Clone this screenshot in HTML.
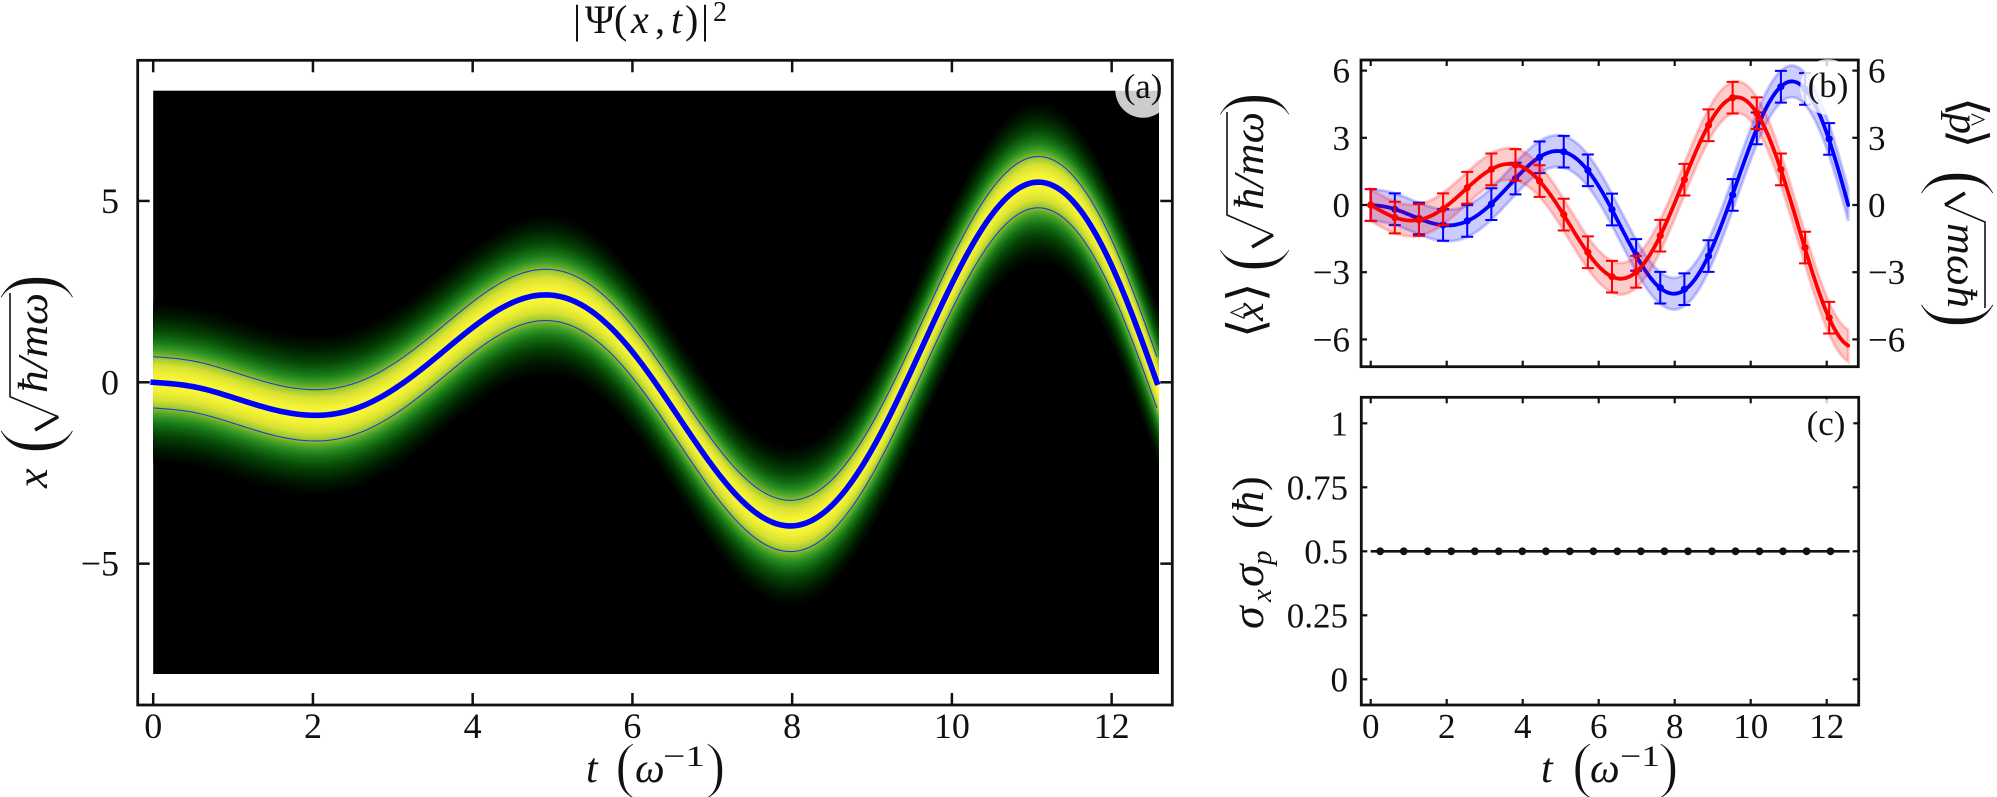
<!DOCTYPE html>
<html lang="en">
<head>
<meta charset="utf-8">
<title>Wave packet density and expectation values</title>
<style>
html,body{margin:0;padding:0;background:#fff;}
svg{display:block;}
text{font-family:"Liberation Serif","DejaVu Serif",serif;fill:#111;}
.i{font-style:italic;}
.ch{font-family:"DejaVu Sans",sans-serif;}
.thin{stroke:#fff;stroke-width:2.2;}
.thin2{stroke:#fff;stroke-width:1.4;}
</style>
</head>
<body>
<svg id="fig" xmlns="http://www.w3.org/2000/svg" width="1997" height="797" viewBox="0 0 1997 797">
  <defs>
    <clipPath id="clip-a"><rect x="153.2" y="90.7" width="1005.8" height="583.3"/></clipPath>
    <clipPath id="clip-b"><rect x="1361" y="60" width="497" height="307"/></clipPath>
  </defs>
  <g id="panel-a"></g>
  <g id="panel-b"></g>
  <g id="panel-c"></g>

  <g>
    <text x="573" y="33" font-size="40">|</text>
    <text x="585" y="33" font-size="40">Ψ</text>
    <text x="614" y="33" font-size="40">(</text>
    <text x="631" y="33" font-size="40" class="i">x</text>
    <text x="655" y="33" font-size="40">,</text>
    <text x="671" y="33" font-size="40" class="i">t</text>
    <text x="685" y="33" font-size="40">)</text>
    <text x="701" y="33" font-size="40">|</text>
    <text x="713" y="21" font-size="28">2</text>
  </g>

  <g>
    <text x="586" y="782" font-size="42" class="i">t</text>
    <text class="thin2" x="615" y="786" font-size="62">(</text>
    <text x="635" y="782" font-size="42" class="i">ω</text>
    <text x="663" y="766" font-size="30" textLength="42" lengthAdjust="spacingAndGlyphs">−1</text>
    <text class="thin2" x="705" y="786" font-size="62">)</text>
  </g>
  <g>
    <text transform="translate(47,488) rotate(-90)" font-size="44" class="i">x</text>
    <text class="thin" transform="translate(57,455) rotate(-90)" font-size="84">(</text>
    <text class="thin" transform="translate(57,301) rotate(-90)" font-size="84">)</text>
    <text transform="translate(47,393) rotate(-90)" font-size="42" class="i" textLength="100" lengthAdjust="spacingAndGlyphs">ħ/mω</text>
    <path d="M58.3 416.7L10 396.7L10 293" fill="none" stroke="#111" stroke-width="1.6"/>
    <path d="M35 430L58.3 416.7" fill="none" stroke="#111" stroke-width="3.4"/>
  </g>

  <g>
    <text class="ch" transform="translate(1263,338) rotate(-90)" font-size="50">⟨</text>
    <text transform="translate(1263,321) rotate(-90)" font-size="42" class="i">x</text>
    <text transform="translate(1249,319) rotate(-90)" font-size="28">^</text>
    <text class="ch" transform="translate(1263,302) rotate(-90)" font-size="50">⟩</text>
    <text class="thin" transform="translate(1274,273) rotate(-90)" font-size="80">(</text>
    <text class="thin" transform="translate(1274,118) rotate(-90)" font-size="80">)</text>
    <text transform="translate(1263,210) rotate(-90)" font-size="42" class="i" textLength="98" lengthAdjust="spacingAndGlyphs">ħ/mω</text>
    <path d="M1273 235L1227 215L1227 112" fill="none" stroke="#111" stroke-width="1.6"/>
    <path d="M1252 247L1273 235" fill="none" stroke="#111" stroke-width="3.4"/>
  </g>

  <g>
    <text class="ch" transform="translate(1952,97) rotate(90)" font-size="50">⟨</text>
    <text transform="translate(1950,113) rotate(90)" font-size="42" class="i">p</text>
    <text transform="translate(1966,113) rotate(90)" font-size="28">^</text>
    <text class="ch" transform="translate(1952,129) rotate(90)" font-size="50">⟩</text>
    <text class="thin" transform="translate(1937,169) rotate(90)" font-size="84">(</text>
    <text class="thin" transform="translate(1937,301) rotate(90)" font-size="84">)</text>
    <text transform="translate(1948,223) rotate(90)" font-size="42" class="i" textLength="85" lengthAdjust="spacingAndGlyphs">mωħ</text>
    <path d="M1945 205L1985 222L1985 308" fill="none" stroke="#111" stroke-width="1.6"/>
    <path d="M1965 193L1945 205" fill="none" stroke="#111" stroke-width="3.4"/>
  </g>

  <g>
    <text transform="translate(1263,629) rotate(-90)" font-size="46" class="i">σ</text>
    <text transform="translate(1271,602) rotate(-90)" font-size="29" class="i">x</text>
    <text transform="translate(1263,587) rotate(-90)" font-size="46" class="i">σ</text>
    <text transform="translate(1271,565) rotate(-90)" font-size="29" class="i">p</text>
    <text transform="translate(1263,529) rotate(-90)" font-size="44">(</text>
    <text transform="translate(1263,513) rotate(-90)" font-size="44" class="i">ħ</text>
    <text transform="translate(1263,491) rotate(-90)" font-size="44">)</text>
  </g>

  <g>
    <text x="1541" y="782" font-size="42" class="i">t</text>
    <text class="thin2" x="1572" y="786" font-size="62">(</text>
    <text x="1590" y="782" font-size="42" class="i">ω</text>
    <text x="1620" y="766" font-size="30" textLength="40" lengthAdjust="spacingAndGlyphs">−1</text>
    <text class="thin2" x="1658" y="786" font-size="62">)</text>
  </g>
</svg>

<script>
// ---- chart data ----
const curveT = [0,0.5,1,1.5,2,2.5,3,3.5,4,4.5,5,5.5,6,6.5,7,7.5,8,8.5,9,9.5,10,10.5,11,11.5,12,12.5,12.566];
const positionMean = [0,-0.12,-0.42,-0.75,-0.91,-0.75,-0.21,0.61,1.51,2.2,2.4,1.94,0.84,-0.7,-2.3,-3.52,-3.96,-3.39,-1.85,0.36,2.72,4.62,5.5,5.03,3.22,0.41,0];
const momentumMean = [0,-0.46,-0.69,-0.55,-0.04,0.7,1.41,1.81,1.69,0.96,-0.23,-1.6,-2.74,-3.28,-2.97,-1.77,0.09,2.16,3.89,4.77,4.47,2.94,0.48,-2.34,-4.8,-6.2,-6.28];
const positionSigma = 0.707;
const momentumSigma = 0.707;
const markerT = [0,0.635,1.27,1.905,2.54,3.175,3.81,4.445,5.08,5.715,6.35,6.985,7.62,8.255,8.89,9.525,10.16,10.795,11.43,12.065];
const positionMarkers = [0,-0.19,-0.6,-0.89,-0.71,0.04,1.18,2.13,2.38,1.55,-0.2,-2.23,-3.69,-3.76,-2.28,0.45,3.42,5.28,5.18,2.95];
const momentumMarkers = [0,-0.56,-0.67,-0.19,0.77,1.59,1.79,1.07,-0.43,-2.11,-3.2,-2.98,-1.37,1.13,3.56,4.79,4.1,1.59,-1.9,-5.03];
const productMarkerT = [0.25,0.87,1.5,2.12,2.74,3.37,3.99,4.61,5.24,5.86,6.49,7.11,7.73,8.35,8.98,9.6,10.23,10.85,11.47,12.1];
const productMarkers = [0.5,0.5,0.5,0.5,0.5,0.5,0.5,0.5,0.5,0.5,0.5,0.5,0.5,0.5,0.5,0.5,0.5,0.5,0.5,0.5];
const productLineT = [0,12.6];
const productLine = [0.5,0.5];
const timeTicks = [0,2,4,6,8,10,12];
const timeTickLabels = ['0','2','4','6','8','10','12'];
const densityYTicks = [-5,0,5];
const densityYTickLabels = ['−5','0','5'];
const expectationTicks = [-6,-3,0,3,6];
const expectationTickLabels = ['−6','−3','0','3','6'];
const productTicks = [0,0.25,0.5,0.75,1];
const productTickLabels = ['0','0.25','0.5','0.75','1'];

// ---- axis functions ----
const ax = t => 153.2 + 79.87 * t;
const ay = v => 382.3 - 36.27 * v;
const bx = t => 1370.7 + 38.0 * t;
const by = v => 205 - 22.4 * v;
const cx = bx;
const cy = v => 679.3 - 256 * v;

const NS = 'http://www.w3.org/2000/svg';
function make(tag, attrs, parent, txt){
  const el = document.createElementNS(NS, tag);
  for (const k in attrs) el.setAttribute(k, attrs[k]);
  if (txt !== undefined) el.textContent = txt;
  parent.appendChild(el);
  return el;
}

function spline(xs, ys){
  const n = xs.length, m = new Array(n).fill(0), u = new Array(n).fill(0);
  for (let i = 1; i < n - 1; i++){
    const s = (xs[i] - xs[i-1]) / (xs[i+1] - xs[i-1]);
    const p = s * m[i-1] + 2;
    m[i] = (s - 1) / p;
    const d = (ys[i+1] - ys[i]) / (xs[i+1] - xs[i]) - (ys[i] - ys[i-1]) / (xs[i] - xs[i-1]);
    u[i] = (6 * d / (xs[i+1] - xs[i-1]) - s * u[i-1]) / p;
  }
  for (let i = n - 2; i >= 0; i--) m[i] = m[i] * m[i+1] + u[i];
  return function(t){
    let i = 0;
    while (i < n - 2 && t > xs[i+1]) i++;
    const h = xs[i+1] - xs[i], a = (xs[i+1] - t) / h, b = (t - xs[i]) / h;
    return a * ys[i] + b * ys[i+1] + ((a*a*a - a) * m[i] + (b*b*b - b) * m[i+1]) * h * h / 6;
  };
}

const positionCurve = spline(curveT, positionMean);
const momentumCurve = spline(curveT, momentumMean);
const T_END = curveT[curveT.length - 1];

function linePoints(fn, sx, sy, offset, tEnd, count){
  const pts = [];
  for (let i = 0; i <= count; i++){
    const t = tEnd * i / count;
    pts.push(sx(t).toFixed(2) + ',' + sy(fn(t) + offset).toFixed(2));
  }
  return pts;
}

const colorStops = [[2.25,0,0,0],[1.9,0,22,0],[1.5,5,65,5],[1.2,20,110,20],[1.0,45,145,35],[0.85,90,170,40],[0.7,155,200,50],[0.5,215,225,50],[0.3,238,238,52],[0,255,255,60]];
function densityColor(u){
  for (let i = 0; i < colorStops.length - 1; i++){
    const a = colorStops[i], b = colorStops[i+1];
    if (u <= a[0] && u >= b[0]){
      const f = (a[0] - u) / (a[0] - b[0]);
      return 'rgb(' + [1,2,3].map(k => Math.round(a[k] + (b[k] - a[k]) * f)).join(',') + ')';
    }
  }
  return '#000';
}

function drawTicks(g, name, ticks, pos, horizontal, a0, a1, len, w){
  ticks.forEach(v => {
    const p = pos(v);
    const t1 = make('line', horizontal ? {x1:p,x2:p,y1:a0,y2:a0+len,stroke:'#111','stroke-width':w} : {x1:a0,x2:a0+len,y1:p,y2:p,stroke:'#111','stroke-width':w}, g);
    
    
    const t2 = make('line', horizontal ? {x1:p,x2:p,y1:a1,y2:a1-len,stroke:'#111','stroke-width':w} : {x1:a1,x2:a1-len,y1:p,y2:p,stroke:'#111','stroke-width':w}, g);
    
    
  });
}

function drawFrame(g, name, x0, y0, x1, y1){
  const r = make('rect', {x:x0,y:y0,width:x1-x0,height:y1-y0,fill:'none',stroke:'#111','stroke-width':2.8}, g);
  
  
}

function drawBadge(g, name, label, cxp, cyp, tx, ty){
  const c = make('circle', {cx:cxp,cy:cyp,r:27.7,fill:'#fff','fill-opacity':0.8}, g);
  
  
  const t = make('text', {x:tx,y:ty,'font-size':35,'text-anchor':'middle'}, g, label);
  
  
}

// ---- panel (a): density map ----
const pa = document.getElementById('panel-a');
const heatBack = make('rect', {x:153.2,y:90.7,width:1005.8,height:583.3,fill:'#000'}, pa);


const heat = make('g', {'clip-path':'url(#clip-a)'}, pa);


const HEAT_END = 12.6;
for (let u = 2.25; u > 0.001; u -= 0.05){
  const top = linePoints(positionCurve, ax, ay, u, HEAT_END, 220);
  const bot = linePoints(positionCurve, ax, ay, -u, HEAT_END, 220).reverse();
  const band = make('polygon', {points: top.concat(bot).join(' '), fill: densityColor(u)}, heat);
  
  
}
[positionSigma, -positionSigma].forEach(off => {
  const l = make('polyline', {points: linePoints(positionCurve, ax, ay, off, T_END, 300).join(' '), fill:'none', stroke:'#1c2fd0', 'stroke-width':1.1, 'stroke-opacity':0.9}, pa);
  
  
});
const meanLine = make('polyline', {points: linePoints(positionCurve, ax, ay, 0, T_END, 300).join(' '), fill:'none', stroke:'#0000ff', 'stroke-width':5.6, 'stroke-linecap':'square'}, pa);


drawTicks(pa, 'density-x', timeTicks, ax, true, 705, 60.3, -12, 2.5);
drawTicks(pa, 'density-y', densityYTicks, ay, false, 137.7, 1172.3, 12, 2.5);
drawFrame(pa, 'density', 137.7, 60.3, 1172.3, 705);
timeTicks.forEach((v, i) => {
  const t = make('text', {x:ax(v),y:738,'font-size':36,'text-anchor':'middle'}, pa, timeTickLabels[i]);
  
  
});
densityYTicks.forEach((v, i) => {
  const t = make('text', {x:119,y:ay(v)+12,'font-size':36,'text-anchor':'end'}, pa, densityYTickLabels[i]);
  
  
});
drawBadge(pa, 'density', '(a)', 1143, 90, 1143, 98);

// ---- panel (b): expectation values ----
const pb = document.getElementById('panel-b');
function drawSeries(name, color, fn, sigma, markersY){
  const g = make('g', {}, pb);
  
  
  const up = linePoints(fn, bx, by, sigma, T_END, 240);
  const dn = linePoints(fn, bx, by, -sigma, T_END, 240).reverse();
  const band = make('polygon', {points: up.concat(dn).join(' '), fill: color, 'fill-opacity':0.2, stroke: color, 'stroke-opacity':0.2, 'stroke-width':3}, g);
  
  
  const line = make('polyline', {points: linePoints(fn, bx, by, 0, T_END, 240).join(' '), fill:'none', stroke: color, 'stroke-width':3.8, 'stroke-linecap':'round'}, g);
  
  
  markerT.forEach((t, i) => {
    const x = bx(t), y0 = by(markersY[i] - sigma), y1 = by(markersY[i] + sigma);
    const bar = make('path', {d:`M${x} ${y0}L${x} ${y1}M${x-6} ${y0}L${x+6} ${y0}M${x-6} ${y1}L${x+6} ${y1}`, fill:'none', stroke: color, 'stroke-width':2}, g);
    
    
    const dot = make('circle', {cx:x, cy:by(markersY[i]), r:3.6, fill: color}, g);
    
    
  });
}
drawSeries('position', '#0000ff', positionCurve, positionSigma, positionMarkers);
drawSeries('momentum', '#ff0000', momentumCurve, momentumSigma, momentumMarkers);
drawTicks(pb, 'expectation-x', timeTicks, bx, true, 366.7, 60, -6, 2.2);
drawTicks(pb, 'expectation-y', expectationTicks, by, false, 1361, 1858.3, 6, 2.2);
drawFrame(pb, 'expectation', 1361, 60, 1858.3, 366.7);
expectationTicks.forEach((v, i) => {
  const l = make('text', {x:1350,y:by(v)+12,'font-size':35,'text-anchor':'end'}, pb, expectationTickLabels[i]);
  
  
  const r = make('text', {x:1868,y:by(v)+12,'font-size':35}, pb, expectationTickLabels[i]);
  
  
});
drawBadge(pb, 'expectation', '(b)', 1828, 87, 1828, 97);

// ---- panel (c): uncertainty product ----
const pc = document.getElementById('panel-c');
const prodLine = make('line', {x1:cx(productLineT[0]),x2:cx(productLineT[1]),y1:cy(productLine[0]),y2:cy(productLine[1]),stroke:'#111','stroke-width':2.6}, pc);


productMarkerT.forEach((t, i) => {
  const d = make('circle', {cx:cx(t),cy:cy(productMarkers[i]),r:3.9,fill:'#111'}, pc);
  
  
});
drawTicks(pc, 'uncertainty-x', timeTicks, cx, true, 705, 397.3, -6, 2.2);
drawTicks(pc, 'uncertainty-y', productTicks, cy, false, 1361.3, 1858.7, 6, 2.2);
drawFrame(pc, 'uncertainty', 1361.3, 397.3, 1858.7, 705);
timeTicks.forEach((v, i) => {
  const t = make('text', {x:cx(v),y:738,'font-size':35,'text-anchor':'middle'}, pc, timeTickLabels[i]);
  
  
});
productTicks.forEach((v, i) => {
  const t = make('text', {x:1348,y:cy(v)+12,'font-size':35,'text-anchor':'end'}, pc, productTickLabels[i]);
  
  
});
drawBadge(pc, 'uncertainty', '(c)', 1826, 427, 1826, 435);
</script>
</body>
</html>
